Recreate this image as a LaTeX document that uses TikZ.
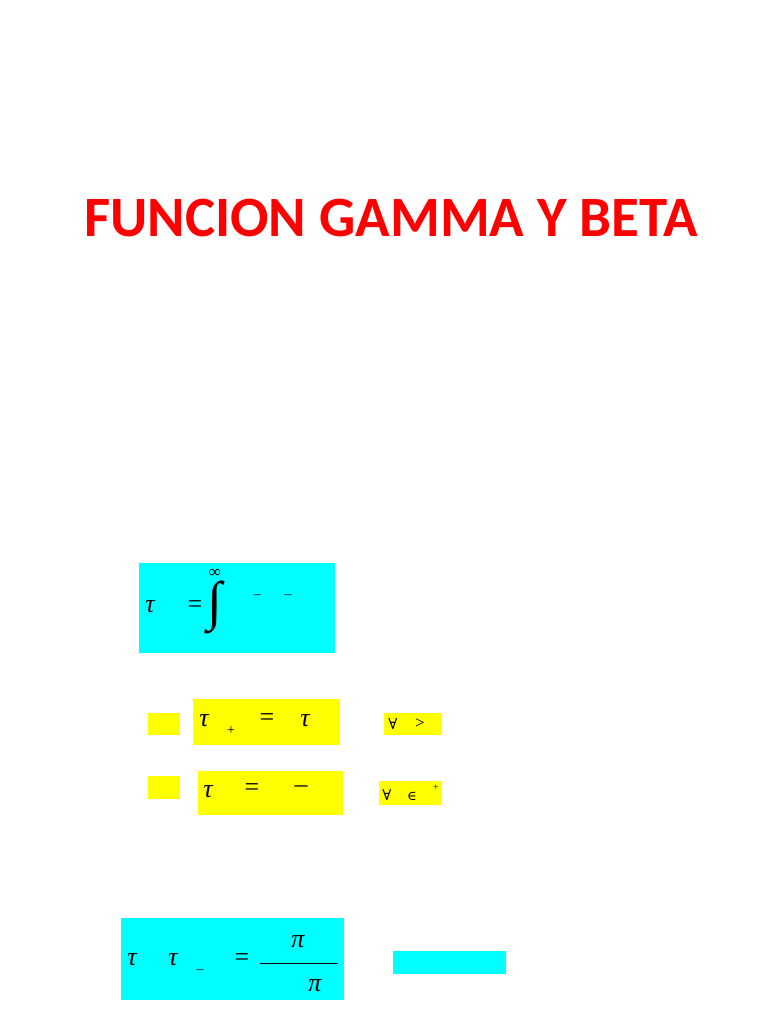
\documentclass[tikz,border=0pt]{standalone}
\usepackage{fontspec}
\setmainfont{Liberation Serif}
\newfontfamily\titlefont{Carlito}
\newfontfamily\symfont{DejaVu Serif}
\definecolor{cyanc}{RGB}{0,255,255}
\definecolor{yelc}{RGB}{255,255,0}
\definecolor{redc}{RGB}{255,0,0}
\begin{document}
\begin{tikzpicture}[x=1pt,y=-1pt,
  cy/.style={fill=cyanc,draw=none},
  yl/.style={fill=yelc,draw=none},
  sym/.style={inner sep=0pt,font=\fontsize{26}{26}\selectfont},
  small/.style={inner sep=0pt,font=\fontsize{14}{14}\selectfont}]
\useasboundingbox[fill=white] (0,0) rectangle (768,1024);
\node[text=redc,font=\titlefont\bfseries\fontsize{57}{57}\selectfont] (title) at (391,218) {FUNCION GAMMA Y BETA};
% box 1
\fill[cy] (139,563) rectangle (335,653);
\node[sym] (t1) at (150,607) {\itshape τ};
\node[sym] (e1) at (195,607) {=};
\node[inner sep=0pt,font=\fontsize{54}{54}\selectfont] (i1) at (215,607) {∫};
\node[small,font=\fontsize{17}{17}\selectfont] (inf) at (215,573) {∞};
\node[small] (m1) at (257,597) {–};
\node[small] (m2) at (288,597) {–};
% row 1
\fill[yl] (148,713) rectangle (180,735);
\fill[yl] (193,699) rectangle (340,745);
\node[sym] (t2) at (204,721) {\itshape τ};
\node[small] (p2) at (231,731) {+};
\node[sym] (e2) at (267,720) {=};
\node[sym] (t3) at (305,721) {\itshape τ};
\fill[yl] (384,713) rectangle (442,735);
\node[small,font=\symfont\fontsize{15}{15}\selectfont] (fa1) at (393,724) {∀};
\node[small,font=\fontsize{17}{17}\selectfont] (gt) at (420,724) {>};
% row 2
\fill[yl] (148,776) rectangle (180,799);
\fill[yl] (198,771) rectangle (343,815);
\node[sym] (t4) at (208,792) {\itshape τ};
\node[sym] (e3) at (252,790) {=};
\node[sym] (d3) at (301,789) {–};
\fill[yl] (379,781) rectangle (442,805);
\node[small,font=\symfont\fontsize{15}{15}\selectfont] (fa2) at (387,795) {∀};
\node[small,font=\symfont\fontsize{13}{13}\selectfont] (in) at (412,796) {∈};
\node[small,font=\fontsize{10}{10}\selectfont] (pl) at (436,788) {+};
% box bottom
\fill[cy] (121,918) rectangle (344,1000);
\node[sym] (t5) at (132,960) {\itshape τ};
\node[sym] (t6) at (173,960) {\itshape τ};
\node[small] (m3) at (200,972) {–};
\node[sym] (e4) at (242,960) {=};
\node[sym] (pi1) at (298,942) {\itshape π};
\draw[line width=0.8pt] (260,963) coordinate (fl) -- (338,963) coordinate (fr);
\node[sym] (pi2) at (315,986) {\itshape π};
\fill[cy] (393,951) rectangle (506,974);
\end{tikzpicture}
\end{document}
